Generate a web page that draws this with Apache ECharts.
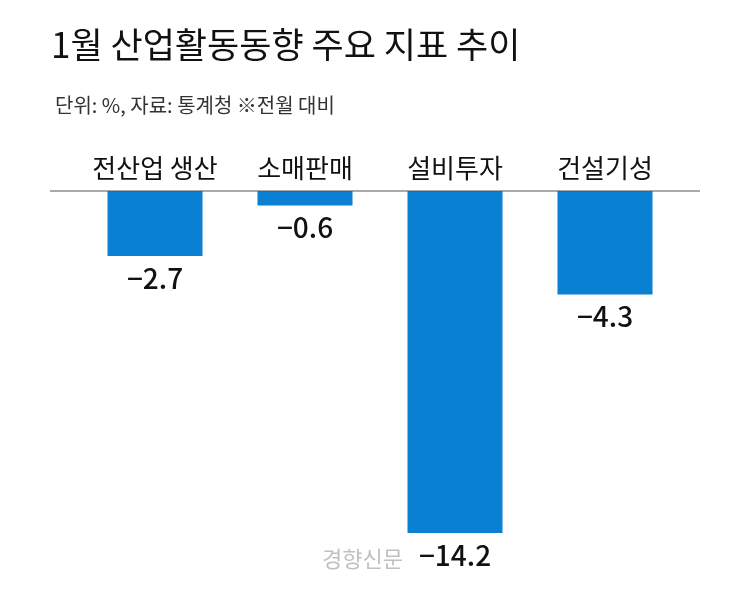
<!DOCTYPE html>
<html><head><meta charset="utf-8">
<script src="https://cdn.jsdelivr.net/npm/echarts@6/dist/echarts.min.js"></script>
<style>html,body{margin:0;background:#fff}#c{width:750px;height:606px}</style>
</head><body><div id="c"></div>
<script>
const categories = ['전산업 생산', '소매판매', '설비투자', '건설기성'];
const values = [-2.7, -0.6, -14.2, -4.3];

const chart = echarts.init(document.getElementById('c'));
const font = '"Noto Sans CJK KR", sans-serif';
chart.setOption({
    animation: false,
    textStyle: { fontFamily: font },
    title: [
        { text: '1월 산업활동동향 주요 지표 추이', left: 46, top: 22,
          textStyle: { fontSize: 35, fontWeight: 'normal', color: '#111', fontFamily: font } },
        { text: '단위: %, 자료: 통계청 ※전월 대비', left: 50, top: 90,
          textStyle: { fontSize: 20, fontWeight: 'normal', color: '#333', fontFamily: font } }
    ],
    grid: { left: 80, right: 70, top: 191, bottom: 73 },
    xAxis: {
        type: 'category', position: 'top', data: categories,
        axisLine: { show: false },
        axisTick: { show: false },
        axisLabel: { fontSize: 26, color: '#111', margin: 10, interval: 0, fontFamily: font }
    },
    yAxis: { type: 'value', min: -14.2, max: 0, show: false, splitLine: { show: false } },
    series: [{
        type: 'bar', data: values, barWidth: 95,
        itemStyle: { color: '#0a80d2' },
        label: {
            show: true, position: 'bottom', distance: 8,
            fontSize: 28, fontWeight: 500, color: '#111', fontFamily: font,
            formatter: p => '−' + Math.abs(p.value).toFixed(1)
        }
    }],
    graphic: [{
        type: 'line', z: 10,
        shape: { x1: 50, y1: 191, x2: 700, y2: 191 },
        style: { stroke: '#555', lineWidth: 1 }
    }, {
        type: 'text', left: 322, top: 548,
        style: { text: '경향신문', fontSize: 22, fontFamily: font, fill: 'rgba(150,150,150,0.6)' }
    }]
});
</script></body></html>
